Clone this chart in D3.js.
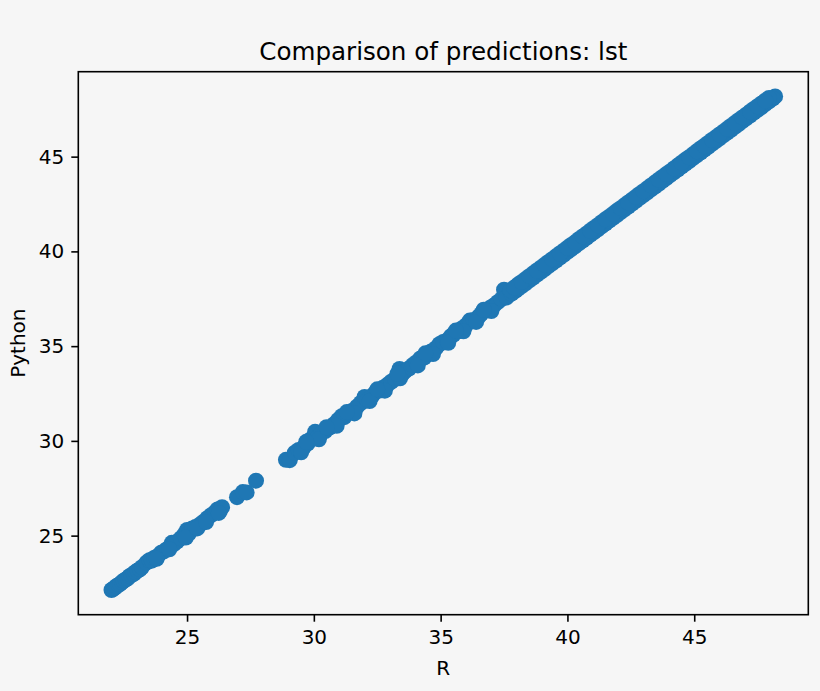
<!DOCTYPE html>
<html>
<head>
<meta charset="utf-8">
<script src="https://cdn.jsdelivr.net/npm/d3@7"></script>
<style>
  body { margin: 0; background: #f6f6f6; }
  svg { display: block; font-family: "DejaVu Sans", sans-serif; }
</style>
</head>
<body>
<svg id="chart"></svg>
<script>
// R predictions (x) and Python predictions (y)
var rValues = [22.02, 22.08, 22.15, 22.21, 22.30, 22.36, 22.44, 22.50, 22.58, 22.66,
               22.73, 22.81, 22.90, 22.97, 23.05, 23.14, 23.22, 23.40, 23.52, 23.61,
               23.70, 23.85, 23.98, 24.10, 24.22, 24.40, 24.48, 24.60, 24.75, 24.90,
               25.00, 25.08, 25.20, 25.33, 25.50, 25.62, 25.80, 25.95, 26.10, 26.20,
               26.30, 26.38, 26.97, 27.20, 27.35, 27.72, 28.90, 29.05, 29.25, 29.40,
               29.60, 29.75, 29.90, 30.05, 30.15, 30.30, 30.45, 30.62, 30.80, 30.95,
               31.10, 31.20, 31.38, 31.50, 31.70, 31.85, 32.00, 32.10, 32.30, 32.45,
               32.60, 32.72, 32.90, 33.05, 33.20, 33.38, 33.50, 33.60, 33.75, 33.90,
               34.05, 34.20, 34.35, 34.50, 34.62, 34.80, 34.95, 35.10, 35.25, 35.40,
               35.50, 35.70, 35.85, 36.00, 36.15, 36.30, 36.50, 36.60, 36.80, 36.95,
               37.10, 37.25, 37.40, 37.50, 37.70, 37.85, 38.00, 38.10, 38.30, 38.45,
               38.60, 38.75, 38.90, 39.05, 39.20, 39.35, 39.50, 39.65, 39.80, 39.95,
               40.10, 40.25, 40.40, 40.55, 40.70, 40.85, 41.00, 41.15, 41.30, 41.45,
               41.60, 41.75, 41.90, 42.05, 42.20, 42.35, 42.50, 42.65, 42.80, 42.95,
               43.10, 43.25, 43.40, 43.55, 43.70, 43.85, 44.00, 44.15, 44.30, 44.45,
               44.60, 44.75, 44.90, 45.05, 45.20, 45.35, 45.50, 45.65, 45.80, 45.95,
               46.10, 46.25, 46.40, 46.55, 46.70, 46.85, 47.00, 47.15, 47.30, 47.45,
               47.60, 47.75, 47.90, 48.05, 48.19,
               23.80, 24.30, 24.95, 25.40, 25.75, 26.25,
               29.50, 30.20, 30.90, 31.60, 32.20, 32.80, 33.40, 34.10, 34.70, 35.30,
               35.90, 36.40, 37.00,
               29.70, 30.50, 31.30, 32.50, 33.30, 34.40, 35.60, 36.70,
               37.60, 37.95, 38.20, 38.50, 38.80, 39.10, 39.40, 39.70, 40.00, 40.30,
               40.60, 40.90, 41.20, 41.50, 41.80, 42.10, 42.40, 42.70, 43.00, 43.30,
               43.60, 43.90, 44.20, 44.50, 44.80, 45.10, 45.40, 45.70, 46.00, 46.30,
               46.60, 46.90, 47.20, 47.50, 47.80, 48.10,
               37.80, 38.05, 38.35, 38.65, 38.95, 39.25, 39.55, 39.85, 40.15, 40.45,
               40.75, 41.05, 41.35, 41.65, 41.95, 42.25, 42.55, 42.85, 43.15, 43.45,
               43.75, 44.05, 44.35, 44.65, 44.95, 45.25, 45.55, 45.85, 46.15, 46.45,
               46.75, 47.05, 47.35, 47.65, 47.95,
               37.75, 38.05, 38.35, 38.65, 38.95, 39.25, 39.55, 39.85, 40.15, 40.45,
               40.75, 41.05, 41.35, 41.65, 41.95, 42.25, 42.55, 42.85, 43.15, 43.45,
               43.75, 44.05, 44.35, 44.65, 44.95, 45.25, 45.55, 45.85, 46.15, 46.45,
               46.75, 47.05, 47.35, 47.65, 47.95,
               37.90, 38.20, 38.50, 38.80, 39.10, 39.40, 39.70, 40.00, 40.30, 40.60,
               40.90, 41.20, 41.50, 41.80, 42.10, 42.40, 42.70, 43.00, 43.30, 43.60,
               43.90, 44.20, 44.50, 44.80, 45.10, 45.40, 45.70, 46.00, 46.30, 46.60,
               46.90, 47.20, 47.50, 47.80]
var pythonValues = [22.13, 22.18, 22.24, 22.33, 22.40, 22.45, 22.55, 22.62, 22.68, 22.75,
                    22.86, 22.92, 22.99, 23.08, 23.16, 23.22, 23.33, 23.58, 23.70, 23.68,
                    23.82, 23.93, 24.10, 24.18, 24.30, 24.62, 24.55, 24.68, 24.86, 25.08,
                    25.30, 25.12, 25.38, 25.45, 25.58, 25.70, 25.92, 26.08, 26.22, 26.38,
                    26.32, 26.50, 27.03, 27.30, 27.28, 27.90, 29.00, 28.98, 29.38, 29.52,
                    29.66, 29.86, 30.10, 30.48, 30.20, 30.42, 30.52, 30.70, 30.88, 31.10,
                    31.30, 31.25, 31.50, 31.58, 31.80, 32.00, 32.32, 32.15, 32.38, 32.60,
                    32.66, 32.80, 32.96, 33.12, 33.26, 33.80, 33.55, 33.68, 33.82, 34.00,
                    34.15, 34.35, 34.40, 34.58, 34.72, 34.88, 35.10, 35.22, 35.30, 35.52,
                    35.60, 35.78, 35.95, 36.10, 36.35, 36.38, 36.56, 36.70, 36.92, 37.02,
                    37.15, 37.32, 37.48, 37.98, 37.75, 37.92, 38.10, 38.25, 38.36, 38.52,
                    38.65, 38.82, 38.95, 39.12, 39.25, 39.42, 39.56, 39.75, 39.84, 40.02,
                    40.25, 40.30, 40.45, 40.60, 40.78, 40.90, 41.05, 41.25, 41.34, 41.50,
                    41.64, 41.80, 41.95, 42.08, 42.26, 42.38, 42.55, 42.68, 42.84, 42.98,
                    43.15, 43.28, 43.44, 43.58, 43.80, 43.88, 44.02, 44.20, 44.32, 44.50,
                    44.62, 44.80, 44.92, 45.08, 45.24, 45.36, 45.52, 45.68, 45.82, 45.97,
                    46.14, 46.26, 46.42, 46.58, 46.71, 46.88, 47.02, 47.16, 47.32, 47.46,
                    47.62, 47.76, 47.91, 48.06, 48.18,
                    23.78, 24.28, 24.90, 25.38, 25.72, 26.20,
                    29.40, 30.08, 30.80, 31.45, 32.10, 32.65, 33.30, 33.98, 34.58, 35.18,
                    35.78, 36.28, 36.85,
                    29.95, 30.72, 31.52, 32.72, 33.55, 34.62, 35.82, 36.92,
                    37.57, 37.92, 38.17, 38.47, 38.77, 39.07, 39.37, 39.67, 39.97, 40.27,
                    40.57, 40.87, 41.17, 41.47, 41.77, 42.07, 42.37, 42.67, 42.97, 43.27,
                    43.57, 43.87, 44.17, 44.47, 44.77, 45.07, 45.37, 45.67, 45.97, 46.27,
                    46.57, 46.87, 47.17, 47.47, 47.77, 48.06,
                    37.77, 38.02, 38.32, 38.62, 38.92, 39.22, 39.52, 39.82, 40.12, 40.42,
                    40.72, 41.02, 41.32, 41.62, 41.92, 42.22, 42.52, 42.82, 43.12, 43.42,
                    43.72, 44.02, 44.32, 44.62, 44.92, 45.22, 45.52, 45.82, 46.12, 46.42,
                    46.72, 47.02, 47.32, 47.62, 47.92,
                    37.95, 38.25, 38.54, 38.84, 39.14, 39.44, 39.74, 40.04, 40.34, 40.64,
                    40.93, 41.24, 41.54, 41.83, 42.14, 42.43, 42.73, 43.03, 43.33, 43.63,
                    43.93, 44.22, 44.53, 44.83, 45.12, 45.43, 45.72, 46.02, 46.32, 46.62,
                    46.92, 47.21, 47.52, 47.81, 48.10,
                    38.09, 38.39, 38.69, 38.99, 39.29, 39.59, 39.89, 40.19, 40.48, 40.79,
                    41.09, 41.38, 41.69, 41.98, 42.28, 42.58, 42.88, 43.18, 43.48, 43.78,
                    44.08, 44.38, 44.68, 44.97, 45.28, 45.57, 45.88, 46.17, 46.47, 46.77,
                    47.07, 47.37, 47.66, 47.96]
var xTicks = [25, 30, 35, 40, 45]
var yTicks = [25, 30, 35, 40, 45]

var points = rValues.map((r, i) => ({r: r, p: pythonValues[i]}))

// Dimensions and margin
var W = 820, H = 691
var margin = {top: 71.7, right: 11.7, bottom: 76.3, left: 78.3},
    width = W - margin.left - margin.right,
    height = H - margin.top - margin.bottom

var svg = d3.select("#chart")
    .attr("width", W)
    .attr("height", H)

svg.append("rect")
    .attr("width", W)
    .attr("height", H)
    .attr("fill", "#f6f6f6")

var g = svg.append("g")
    .attr("transform", "translate(" + margin.left + "," + margin.top + ")")

// matplotlib style 5% padding around the data
var xExt = d3.extent(rValues), yExt = d3.extent(pythonValues)
var xPad = (xExt[1] - xExt[0]) * 0.05, yPad = (yExt[1] - yExt[0]) * 0.05

var x = d3.scaleLinear()
    .domain([xExt[0] - xPad, xExt[1] + xPad])
    .range([0, width])
var y = d3.scaleLinear()
    .domain([yExt[0] - yPad, yExt[1] + yPad])
    .range([height, 0])

g.append("clipPath")
    .attr("id", "clip")
    .append("rect")
    .attr("width", width)
    .attr("height", height)

// points
g.append("g")
    .attr("clip-path", "url(#clip)")
    .selectAll("circle")
    .data(points)
    .enter()
    .append("circle")
    .attr("cx", (d) => x(d.r))
    .attr("cy", (d) => y(d.p))
    .attr("r", 8)
    .attr("fill", "#1f77b4")

// X axis
var xAxis = g.append("g")
    .attr("transform", "translate(0," + height + ")")
    .call(d3.axisBottom(x).tickValues(xTicks).tickSize(7).tickPadding(7).tickFormat(d3.format("d")))
xAxis.select(".domain").remove()
xAxis.selectAll("line").attr("stroke", "#000").attr("stroke-width", 1.6)
xAxis.selectAll("text").attr("font-size", "20px").attr("fill", "#000")
    .attr("font-family", "DejaVu Sans").attr("dy", "0.75em")

// Y axis
var yAxis = g.append("g")
    .call(d3.axisLeft(y).tickValues(yTicks).tickSize(7).tickPadding(7).tickFormat(d3.format("d")))
yAxis.select(".domain").remove()
yAxis.selectAll("line").attr("stroke", "#000").attr("stroke-width", 1.6)
yAxis.selectAll("text").attr("font-size", "20px").attr("fill", "#000")
    .attr("font-family", "DejaVu Sans")

// frame
g.append("rect")
    .attr("width", width)
    .attr("height", height)
    .attr("fill", "none")
    .attr("stroke", "#000")
    .attr("stroke-width", 1.6)

// Title
g.append("text")
    .attr("x", width / 2)
    .attr("y", 59.5 - margin.top)
    .style("text-anchor", "middle")
    .attr("font-size", "24.6px")
    .attr("fill", "#000")
    .text("Comparison of predictions: lst")

// text label for the x axis
g.append("text")
    .attr("x", width / 2)
    .attr("y", 675 - margin.top)
    .style("text-anchor", "middle")
    .attr("font-size", "20px")
    .attr("fill", "#000")
    .text("R")

// text label for the y axis
g.append("text")
    .attr("transform", "translate(" + (25 - margin.left) + "," + (height / 2) + ") rotate(-90)")
    .style("text-anchor", "middle")
    .attr("font-size", "20px")
    .attr("fill", "#000")
    .text("Python")
</script>
</body>
</html>
